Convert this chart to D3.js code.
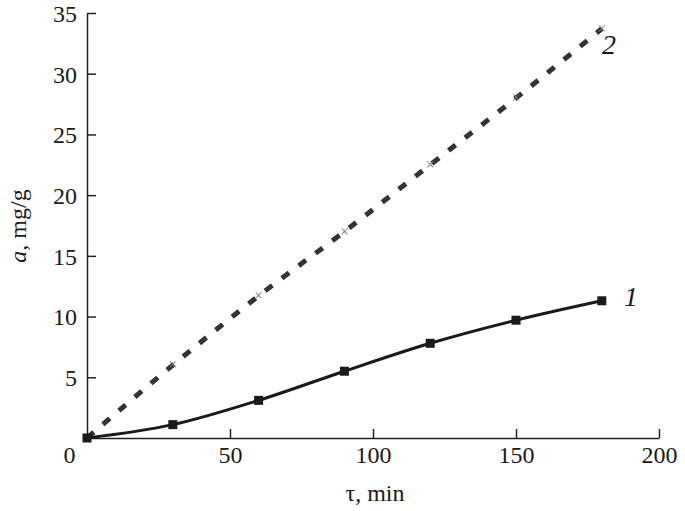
<!DOCTYPE html><html><head><script src="https://cdn.jsdelivr.net/npm/d3@7"></script>
<style>body{margin:0;background:#fff}svg text{font-family:"Liberation Serif",serif!important;fill:#1a1a1a}</style></head><body>
<svg id="c" width="685" height="511"></svg>
<script>
const times=[0,30,60,90,120,150,180];
const series1=[0,1.1,3.1,5.5,7.8,9.7,11.3];
const series2=[0,6,11.7,17,22.5,28,33.7];
const xTicks=[0,50,100,150,200];
const yTicks=[5,10,15,20,25,30,35];
const svg=d3.select("#c");
const x=d3.scaleLinear().domain([0,200]).range([87,659]);
const y=d3.scaleLinear().domain([0,35]).range([438,13]);
const ax=svg.append("g").attr("transform","translate(0,438)").call(d3.axisBottom(x).tickValues(xTicks).tickSizeInner(-9).tickSizeOuter(0).tickPadding(20));
ax.attr("font-family",null);
ax.selectAll("text").attr("font-size",24).attr("dy","0.2em");
ax.selectAll(".tick").filter(d=>d===0).select("text").attr("dx",-18);
ax.selectAll(".tick").filter(d=>d===0).select("line").remove();
const ay=svg.append("g").attr("transform","translate(87,0)").call(d3.axisLeft(y).tickValues(yTicks).tickSizeInner(-9).tickSizeOuter(0).tickPadding(10));
ay.attr("font-family",null);
ay.selectAll("text").attr("font-size",24).attr("dy","0.35em");
svg.selectAll(".domain").attr("stroke","#222").attr("stroke-width",1.5);
svg.selectAll(".tick line").attr("stroke","#222").attr("stroke-width",1.5);
const d1=times.map((t,i)=>[t,series1[i]]), d2=times.map((t,i)=>[t,series2[i]]);
const line=d3.line().x(d=>x(d[0])).y(d=>y(d[1])).curve(d3.curveMonotoneX);
svg.append("path").attr("d",line(d2)).attr("fill","none").attr("stroke","#333").attr("stroke-width",5).attr("stroke-dasharray","9,12");
svg.append("path").attr("d",line(d1)).attr("fill","none").attr("stroke","#1a1a1a").attr("stroke-width",3);
svg.selectAll(".m1").data(d1).enter().append("rect").attr("x",d=>x(d[0])-4.5).attr("y",d=>y(d[1])-4.5).attr("width",9).attr("height",9).attr("fill","#1a1a1a");
svg.selectAll(".m2").data(d2.slice(1)).enter().append("text").attr("x",d=>x(d[0])).attr("y",d=>y(d[1])+5).attr("text-anchor","middle").attr("font-size",16).style("fill","#777").text("×");
svg.append("text").attr("x",624).attr("y",306).attr("font-size",28).attr("font-style","italic").text("1");
svg.append("text").attr("x",602).attr("y",54).attr("font-size",28).attr("font-style","italic").text("2");
svg.append("text").attr("x",375).attr("y",501).attr("text-anchor","middle").attr("font-size",24).text("τ, min");
const yl=svg.append("text").attr("transform","translate(26,226) rotate(-90)").attr("text-anchor","middle").attr("font-size",24);
yl.append("tspan").attr("font-style","italic").text("a");yl.append("tspan").text(", mg/g");
</script></body></html>
